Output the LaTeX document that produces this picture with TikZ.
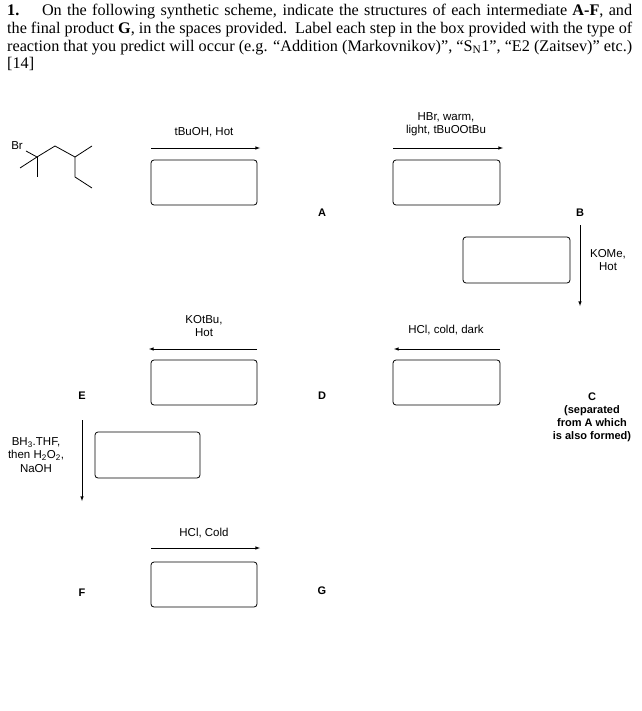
\documentclass[tikz,border=0pt]{standalone}
\usepackage{fontspec}
\setmainfont{Liberation Serif}
\setsansfont{Liberation Sans}
\begin{document}
\begin{tikzpicture}[x=1pt,y=-1pt,
 box/.style={draw,rounded corners=3pt,line width=0.8pt},
 arr/.style={-latex,line width=0.6pt},
 lab/.style={font=\sffamily\fontsize{11.5}{13.5}\selectfont,align=center},
 let/.style={font=\sffamily\bfseries\fontsize{11}{13}\selectfont}]
\useasboundingbox[fill=white] (0,0) rectangle (641,711);
\node[anchor=north west,text width=625pt,align=justify,inner sep=0pt,font=\fontsize{16.2}{17.7}\selectfont] (para) at (7,4) {\textbf{1.}\hspace{1.4em}On the following synthetic scheme, indicate the structures of each intermediate \textbf{A-F}, and the final product \textbf{G}, in the spaces provided.\ \ Label each step in the box provided with the type of reaction that you predict will occur (e.g. ``Addition (Markovnikov)'', ``S\textsubscript{N}1'', ``E2 (Zaitsev)'' etc.) [14]};
% molecule
\node[lab,inner sep=0pt] (br) at (17,146) {Br};
\coordinate (c1) at (37,157); \coordinate (c2) at (55,146); \coordinate (c3) at (75,157);
\draw[line width=0.8pt] (26,151) -- (c1) -- (20,168);
\draw[line width=0.8pt] (c1) -- (37,177);
\draw[line width=0.8pt] (c1) -- (c2) -- (c3) -- (92,146);
\draw[line width=0.8pt] (c3) -- (75,177) -- (92,188);
% boxes
\node[box,minimum width=106pt,minimum height=45pt] (b1) at (204,182.5) {};
\node[box,minimum width=107pt,minimum height=45pt] (b2) at (446.5,182.5) {};
\node[box,minimum width=107pt,minimum height=46pt] (b3) at (516.5,260) {};
\node[box,minimum width=106pt,minimum height=45pt] (b4) at (204,382.5) {};
\node[box,minimum width=107pt,minimum height=45pt] (b5) at (446.5,382.5) {};
\node[box,minimum width=105pt,minimum height=46pt] (b6) at (147.5,455) {};
\node[box,minimum width=106pt,minimum height=45pt] (b7) at (204,584.5) {};
% arrows
\coordinate (a1s) at (151,148); \coordinate (a1e) at (260,148);
\draw[arr] (a1s) -- (a1e);
\coordinate (a2s) at (393,148); \coordinate (a2e) at (503,148);
\draw[arr] (a2s) -- (a2e);
\coordinate (a3s) at (580,225); \coordinate (a3e) at (580,306);
\draw[arr] (a3s) -- (a3e);
\coordinate (a4s) at (257,349); \coordinate (a4e) at (149,349);
\draw[arr] (a4s) -- (a4e);
\coordinate (a5s) at (500,349); \coordinate (a5e) at (394,349);
\draw[arr] (a5s) -- (a5e);
\coordinate (a6s) at (82,420); \coordinate (a6e) at (82,501);
\draw[arr] (a6s) -- (a6e);
\coordinate (a7s) at (151,548); \coordinate (a7e) at (260,548);
\draw[arr] (a7s) -- (a7e);
% labels
\node[lab] (l1) at (204,132) {tBuOH, Hot};
\node[lab] (l2) at (446,124) {HBr, warm,\\light, tBuOOtBu};
\node[lab] (l3) at (608,260) {KOMe,\\Hot};
\node[lab] (l4) at (204,326) {KOtBu,\\Hot};
\node[lab] (l5) at (446,330) {HCl, cold, dark};
\node[lab] (l6) at (36,455) {BH\textsubscript{3}.THF,\\then H\textsubscript{2}O\textsubscript{2},\\NaOH};
\node[lab] (l7) at (204,533) {HCl, Cold};
% letters
\node[let] (A) at (322,213) {A};
\node[let] (B) at (580,213) {B};
\node[let,align=center] (C) at (592,417) {C\\(separated\\from A which\\is also formed)};
\node[let] (D) at (322,396) {D};
\node[let] (E) at (82,396) {E};
\node[let] (F) at (82,593) {F};
\node[let] (G) at (322,591) {G};
\end{tikzpicture}
\end{document}
